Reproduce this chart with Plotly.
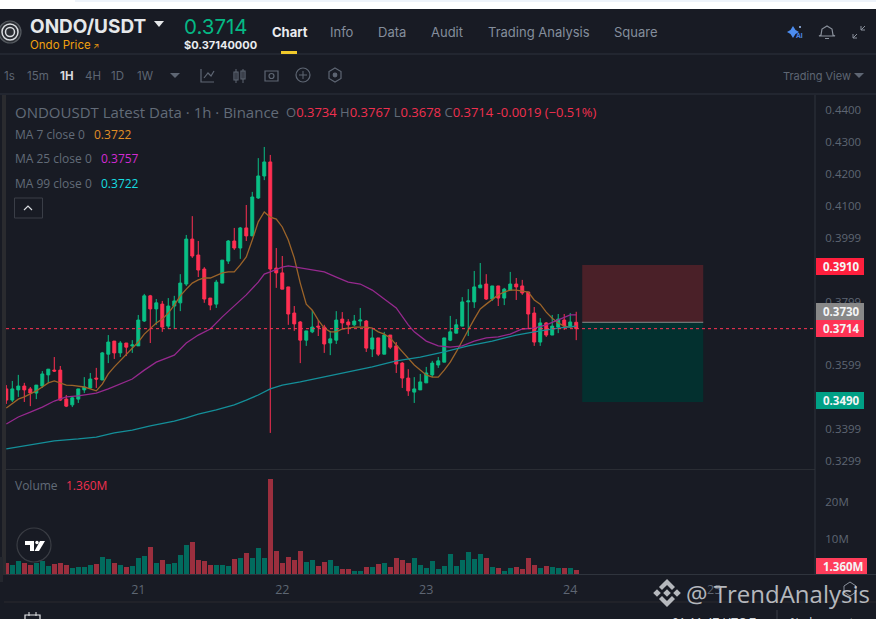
import plotly.graph_objects as go

# ---------- data ----------
opens = [0.3525,0.3490,0.3522,0.3534,0.3525,0.3512,0.3534,0.3569,0.3584,0.3584,0.3493,0.3475,0.3493,0.3522,0.3528,0.3559,
0.3553,0.3634,0.3675,0.3638,0.3669,0.3660,0.3660,0.3738,0.3817,0.3776,0.3791,0.3722,0.3785,0.3795,0.3854,0.3995,
0.3945,0.3901,0.3810,0.3791,0.3857,0.3926,0.3989,0.3967,0.4030,0.4005,0.4124,0.4193,0.4237,0.3904,0.3889,0.3845,
0.3763,0.3735,0.3678,0.3704,0.3722,0.3719,0.3669,0.3678,0.3744,0.3735,0.3726,0.3738,0.3738,0.3650,0.3685,0.3634,
0.3694,0.3660,0.3606,0.3559,0.3515,0.3522,0.3544,0.3569,0.3600,0.3609,0.3678,0.3700,0.3722,0.3798,0.3798,0.3842,
0.3854,0.3807,0.3848,0.3810,0.3835,0.3854,0.3848,0.3829,0.3763,0.3672,0.3732,0.3694,0.3719,0.3741,0.3719,0.3734]
highs = [0.3537,0.3550,0.3569,0.3544,0.3531,0.3537,0.3581,0.3587,0.3625,0.3597,0.3506,0.3500,0.3525,0.3562,0.3575,0.3591,
0.3641,0.3694,0.3675,0.3675,0.3669,0.3678,0.3757,0.3823,0.3820,0.3807,0.3801,0.3810,0.3817,0.3885,0.4008,0.4067,
0.3989,0.3907,0.3810,0.3867,0.3929,0.3992,0.4030,0.4033,0.4102,0.4143,0.4249,0.4284,0.4259,0.3967,0.3942,0.3845,
0.3785,0.3738,0.3707,0.3772,0.3741,0.3726,0.3707,0.3769,0.3766,0.3744,0.3757,0.3779,0.3741,0.3713,0.3685,0.3704,
0.3694,0.3672,0.3609,0.3587,0.3562,0.3572,0.3594,0.3613,0.3625,0.3685,0.3754,0.3744,0.3813,0.3838,0.3895,0.3920,
0.3885,0.3848,0.3848,0.3842,0.3892,0.3873,0.3867,0.3829,0.3782,0.3747,0.3735,0.3757,0.3760,0.3760,0.3763,0.3767]
lows = [0.3478,0.3484,0.3500,0.3484,0.3471,0.3493,0.3528,0.3544,0.3578,0.3487,0.3468,0.3468,0.3481,0.3512,0.3525,0.3528,
0.3553,0.3606,0.3619,0.3625,0.3628,0.3638,0.3660,0.3735,0.3669,0.3726,0.3704,0.3713,0.3713,0.3769,0.3848,0.3936,
0.3876,0.3795,0.3772,0.3779,0.3857,0.3917,0.3961,0.3933,0.3989,0.4005,0.4121,0.4180,0.3387,0.3842,0.3838,0.3726,
0.3707,0.3606,0.3660,0.3700,0.3691,0.3638,0.3631,0.3666,0.3716,0.3697,0.3722,0.3722,0.3641,0.3625,0.3628,0.3634,
0.3650,0.3575,0.3528,0.3503,0.3481,0.3522,0.3544,0.3562,0.3591,0.3609,0.3675,0.3700,0.3722,0.3691,0.3779,0.3842,
0.3804,0.3801,0.3785,0.3788,0.3835,0.3804,0.3820,0.3716,0.3660,0.3660,0.3688,0.3694,0.3700,0.3710,0.3719,0.3678]
closes = [0.3490,0.3525,0.3534,0.3522,0.3512,0.3537,0.3572,0.3587,0.3581,0.3490,0.3471,0.3497,0.3525,0.3531,0.3556,0.3556,
0.3638,0.3672,0.3638,0.3669,0.3656,0.3663,0.3741,0.3817,0.3776,0.3795,0.3719,0.3785,0.3801,0.3857,0.3995,0.3942,
0.3898,0.3807,0.3788,0.3860,0.3929,0.3989,0.3967,0.4030,0.4005,0.4127,0.4193,0.4237,0.3901,0.3889,0.3838,0.3760,
0.3729,0.3678,0.3707,0.3719,0.3719,0.3666,0.3682,0.3741,0.3732,0.3726,0.3738,0.3741,0.3653,0.3685,0.3634,0.3694,
0.3656,0.3603,0.3559,0.3519,0.3525,0.3547,0.3575,0.3606,0.3613,0.3685,0.3704,0.3726,0.3798,0.3801,0.3845,0.3851,
0.3807,0.3848,0.3810,0.3838,0.3854,0.3845,0.3826,0.3760,0.3672,0.3732,0.3694,0.3722,0.3744,0.3722,0.3735,0.3714]
volumes_m = [3.1,2.5,3.7,3.1,2.5,3.1,3.7,2.3,2.8,3.1,2.5,1.7,2.0,2.0,2.5,2.8,
4.8,4.2,3.1,2.5,2.0,2.3,4.5,5.1,7.6,3.1,3.9,2.8,3.1,5.4,8.2,9.0,
3.9,3.7,2.5,2.5,2.5,2.3,4.2,4.5,5.9,4.5,7.3,4.5,26.5,6.5,3.1,4.8,
3.9,6.5,3.4,3.9,2.3,3.4,3.9,2.3,1.4,1.4,0.85,1.1,2.0,2.0,2.8,3.1,
2.0,4.5,3.9,3.1,4.5,2.5,1.7,3.7,1.4,2.3,5.6,2.3,3.9,6.2,4.2,5.6,
4.5,2.0,1.7,1.1,1.7,2.0,1.4,4.5,2.5,1.7,2.3,2.0,1.7,1.7,1.7,1.36]
ma7 = [0.3465,0.3478,0.3493,0.3500,0.3509,0.3519,0.3531,0.3544,0.3550,0.3544,0.3537,0.3536,0.3534,0.3531,0.3525,0.3519,
0.3540,0.3572,0.3594,0.3613,0.3634,0.3653,0.3672,0.3697,0.3713,0.3732,0.3744,0.3763,0.3788,0.3817,0.3838,0.3857,
0.3867,0.3873,0.3873,0.3882,0.3889,0.3892,0.3892,0.3914,0.3939,0.3992,0.4049,0.4080,0.4064,0.4058,0.4033,0.3992,
0.3936,0.3857,0.3791,0.3772,0.3741,0.3716,0.3704,0.3704,0.3713,0.3716,0.3719,0.3719,0.3719,0.3716,0.3704,0.3697,
0.3685,0.3663,0.3641,0.3622,0.3600,0.3584,0.3569,0.3562,0.3562,0.3584,0.3609,0.3641,0.3678,0.3710,0.3744,0.3776,
0.3791,0.3807,0.3820,0.3829,0.3835,0.3835,0.3832,0.3829,0.3804,0.3791,0.3766,0.3747,0.3732,0.3722,0.3719,0.3722]
ma25_idx = [0,2,4,6,8,10,12,15,17,19,21,23,25,28,30,32,34,36,38,40,42,43,44,46,47,49,51,53,55,57,59,61,63,65,67,68,70,72,74,76,78,80,82,84,86,88,90,92,94,95]
ma25 = [0.3415,0.3437,0.3452,0.3468,0.3487,0.3500,0.3503,0.3512,0.3525,0.3540,0.3556,0.3584,0.3609,0.3631,0.3669,0.3694,0.3713,0.3751,0.3785,0.3820,0.3860,0.3885,0.3892,0.3907,0.3911,0.3904,0.3898,0.3892,0.3876,0.3860,0.3854,0.3835,0.3807,0.3779,0.3726,0.3704,0.3675,0.3660,0.3656,0.3660,0.3675,0.3685,0.3688,0.3697,0.3713,0.3716,0.3726,0.3741,0.3757,0.3757]
ma99_idx = [0,4,8,12,15,18,21,24,28,30,32,35,38,40,42,44,46,49,53,57,61,65,69,73,77,81,85,88,92,95]
ma99 = [0.3337,0.3349,0.3362,0.3368,0.3374,0.3387,0.3396,0.3409,0.3424,0.3434,0.3446,0.3459,0.3475,0.3490,0.3506,0.3525,0.3537,0.3547,0.3562,0.3578,0.3594,0.3613,0.3625,0.3641,0.3660,0.3675,0.3694,0.3704,0.3716,0.3722]

price_ticks = [0.44,0.43,0.42,0.41,0.3999,0.3799,0.3599,0.3399,0.3299]
price_labels = ["0.4400","0.4300","0.4200","0.4100","0.3999","0.3799","0.3599","0.3399","0.3299"]
day_ticks = [22,46,70,94,118]
day_labels = ["21","22","23","24","25"]
last_price = 0.3714
box_top = 0.3914
box_entry = 0.3734
box_bottom = 0.3484

BG = "#181b24"
GRAY = "#5e6673"
GREEN = "#09bf85"
RED = "#ff2f52"
W, H = 876, 619

def X(p): return p / W
def Y(p): return 1 - p / H

x_idx = list(range(len(opens)))
vol_colors = ["#026b5e" if c >= o else "#9b2f3e" for o, c in zip(opens, closes)]

fig = go.Figure()
fig.add_trace(go.Bar(x=x_idx, y=[v * 1e6 for v in volumes_m], marker=dict(color=vol_colors, line_width=0),
                     width=0.83, yaxis="y2", name="Volume"))
fig.add_trace(go.Candlestick(x=x_idx, open=opens, high=highs, low=lows, close=closes, whiskerwidth=0,
                             increasing=dict(line=dict(color=GREEN, width=1), fillcolor=GREEN),
                             decreasing=dict(line=dict(color=RED, width=1), fillcolor=RED), name="ONDOUSDT"))
fig.add_trace(go.Scatter(x=x_idx, y=ma7, mode="lines", line=dict(color="#9c6429", width=1.3), name="MA 7"))
fig.add_trace(go.Scatter(x=ma25_idx, y=ma25, mode="lines", line=dict(color="#96298e", width=1.3), name="MA 25"))
fig.add_trace(go.Scatter(x=ma99_idx, y=ma99, mode="lines", line=dict(color="#148f99", width=1.3), name="MA 99"))

shapes = []
def rect(x0, y0, x1, y1, fill, line=None, lw=0, layer="above"):
    shapes.append(dict(type="rect", xref="paper", yref="paper", x0=X(x0), x1=X(x1), y0=Y(y0), y1=Y(y1),
                       fillcolor=fill, line=dict(color=line or fill, width=lw), layer=layer))
def seg(x0, y0, x1, y1, color, lw=1):
    shapes.append(dict(type="line", xref="paper", yref="paper", x0=X(x0), x1=X(x1), y0=Y(y0), y1=Y(y1),
                       line=dict(color=color, width=lw), layer="above"))
def circ(cx, cy, r, line, fill="rgba(0,0,0,0)", lw=1.2):
    shapes.append(dict(type="circle", xref="paper", yref="paper", x0=X(cx - r), x1=X(cx + r), y0=Y(cy - r), y1=Y(cy + r),
                       fillcolor=fill, line=dict(color=line, width=lw), layer="above"))
def poly(pts, fill=None, line=None, lw=1.2, close=True):
    d = "M" + " L".join(f"{X(a):.5f},{Y(b):.5f}" for a, b in pts) + (" Z" if close else "")
    shapes.append(dict(type="path", xref="paper", yref="paper", path=d, fillcolor=fill or "rgba(0,0,0,0)",
                       line=dict(color=line or "rgba(0,0,0,0)", width=lw if line else 0), layer="above"))

# page chrome
rect(0, 0, 876, 9, "#ffffff")
rect(75, 0, 876, 2, "#eef3fa")
seg(0, 54, 876, 54, "#2c323c")
seg(0, 94, 876, 94, "#2c323c")
rect(2, 95, 6, 575, "#2a2b2f")
seg(6, 469.5, 815, 469.5, "#2a2d34")
seg(815, 95, 815, 575, "#2f343d")
seg(6, 574.5, 876, 574.5, "#2f343d")
seg(4, 602, 876, 602, "#2b2b2e")
seg(777, 610, 777, 619, "#3a3e47")
rect(281, 51, 297, 54, "#f0c92b")

# header carets
poly([(154, 21), (164, 21), (159, 27)], fill="#e6e8ea")
poly([(170, 73), (180, 73), (175, 78)], fill=GRAY)
poly([(854, 73), (864, 73), (859, 78)], fill=GRAY)

# logo
circ(10, 32, 11, "#555a60", "#2a2d33")
circ(10, 32, 8, "#d9dce0", lw=1.5)
circ(10, 32, 4.5, "#d9dce0", lw=1.5)

# toolbar icons
poly([(201, 69), (201, 82), (214, 82)], line=GRAY, close=False)
poly([(204, 78), (208, 73), (211, 76), (214, 71)], line=GRAY, close=False)
rect(234, 72, 238, 80, "rgba(0,0,0,0)", GRAY, 1.2)
rect(241, 71, 245, 79, "rgba(0,0,0,0)", GRAY, 1.2)
seg(236, 69, 236, 83, GRAY); seg(243, 69, 243, 83, GRAY)
rect(265, 71, 278, 81, "rgba(0,0,0,0)", GRAY, 1.2)
circ(271.5, 76, 2.5, GRAY)
circ(303, 75, 7, GRAY)
seg(299, 75, 307, 75, GRAY); seg(303, 71, 303, 79, GRAY)
poly([(335, 68), (341, 71.5), (341, 78.5), (335, 82), (329, 78.5), (329, 71.5)], line=GRAY)
circ(335, 75, 1.8, GRAY, GRAY)

# top-right icons
poly([(793, 26), (795.5, 30), (799, 32), (795.5, 34), (793, 38), (790.5, 34), (787, 32), (790.5, 30)], fill="#4d8df0")
circ(800, 27, 1, "#9fc0f5", "#9fc0f5", 0)
poly([(821, 35), (822, 29), (827, 26), (832, 29), (833, 35), (835, 36), (819, 36)], line="#8a919c")
seg(825, 38.5, 829, 38.5, "#8a919c")
seg(853, 38, 857, 34, "#8a919c"); seg(853, 34, 853, 38, "#8a919c"); seg(853, 38, 857, 38, "#8a919c")
seg(861, 30, 865, 26, "#8a919c"); seg(861, 26, 861, 30, "#8a919c"); seg(861, 30, 865, 30, "#8a919c")

# legend collapse button
rect(14.5, 198, 42.5, 218, "rgba(0,0,0,0)", "#3a3e47", 1)
poly([(24, 210), (28, 206), (32, 210)], line="#d9dce0", close=False)

# TradingView badge
circ(34, 545, 17, "#3a3d44", "#181b24", 1.2)
poly([(25, 541), (34, 541), (34, 551), (30, 551), (30, 545), (25, 545)], fill="#ffffff")
circ(37, 542.5, 1.7, "#ffffff", "#ffffff", 0)
poly([(40, 541), (45, 541), (39, 551), (34.5, 551)], fill="#ffffff")

# position tool (data coordinates)
pos = dict(xref="x", yref="y", x0=96, x1=116.17, layer="above")
shapes.append(dict(type="rect", y0=box_entry, y1=box_top, fillcolor="#4a2028", line_width=0, **pos))
shapes.append(dict(type="rect", y0=box_bottom, y1=box_entry, fillcolor="#03302f", line_width=0, **pos))
shapes.append(dict(type="line", y0=box_entry, y1=box_entry, line=dict(color="#8a8a8a", width=1), **pos))
shapes.append(dict(type="line", xref="paper", yref="y", x0=X(6), x1=X(815), y0=last_price, y1=last_price,
                   line=dict(color="#ff3355", width=1, dash="dot"), layer="above"))

# price badges
rect(816, 258, 864, 275, "#ff1f3d")
rect(816, 303, 864, 320, "#888888")
rect(816, 320, 864, 337, "#ff3355")
rect(816, 392, 864, 409, "#00a085")
rect(816, 558, 867, 574, "#ff3d5a")

# side handle, calendar, settings
rect(0, 557, 3, 582, "#24272e")
rect(25, 615, 40, 625, "rgba(0,0,0,0)", "#e6e8ea", 1.2)
seg(29, 612, 29, 616, "#e6e8ea"); seg(36, 612, 36, 616, "#e6e8ea")
poly([(850, 582), (856, 586), (856, 592), (850, 596), (844, 592), (844, 586)], line="#8a919c", lw=1)

# watermark logo
WM = "rgba(225,228,232,0.78)"
def diamond(cx, cy, r): poly([(cx - r, cy), (cx, cy - r), (cx + r, cy), (cx, cy + r)], fill=WM)
diamond(667, 593, 3.8); diamond(657, 593, 3.8); diamond(677, 593, 3.8)
poly([(667, 579), (675, 587), (672, 590), (667, 585), (662, 590), (659, 587)], fill=WM)
poly([(667, 607), (675, 599), (672, 596), (667, 601), (662, 596), (659, 599)], fill=WM)

ann = []
def text(x, y, s, size=12, color=GRAY, fam="Open Sans", anchor="left"):
    ann.append(dict(xref="paper", yref="paper", x=X(x), y=Y(y), text=s, showarrow=False, xanchor=anchor, yanchor="middle",
                    font=dict(size=size, color=color, family=fam), borderpad=0, borderwidth=0, align="left"))

text(30, 27, "<b>ONDO/USDT</b>", 19, "#e6e8ea", "Inter")
text(30, 45, "Ondo Price", 11.5, "#f0a10f", "Inter")
text(93, 46, "↗", 8, "#f0a10f", "Inter")
text(184, 27, "0.3714", 20.5, "#05b884", "Inter")
text(184, 45, "<b>$0.37140000</b>", 11, "#eaecef", "Inter")
text(272, 32, "<b>Chart</b>", 13, "#eaecef", "Inter")
for x_, s_ in [(330, "Info"), (378, "Data"), (431, "Audit"), (488, "Trading Analysis"), (614, "Square")]:
    text(x_, 32, s_, 13, "#848e9c", "Inter")
for x_, s_ in [(4, "1s"), (27, "15m"), (85, "4H"), (111, "1D"), (137, "1W")]:
    text(x_, 76, s_, 11.5, GRAY, "Inter")
text(60, 76, "<b>1H</b>", 11.5, "#d8dade", "Inter")
text(783, 76, "Trading View", 11, GRAY, "Inter")
text(796, 35.5, "<b>AI</b>", 6.5, "#4d8df0", "Inter")
text(15, 112, "ONDOUSDT Latest Data · 1h · Binance", 15, "#626b78")
r = lambda s: f"<span style='color:#f0304f'>{s}</span>"
text(286, 112, "O" + r("0.3734") + " H" + r("0.3767") + " L" + r("0.3678") + " C" + r("0.3714") + " " + r("-0.0019 (−0.51%)"), 13, "#626b78")
text(15, 135, "MA 7 close 0", 12, "#626b78"); text(94, 135, "0.3722", 12, "#e08f25")
text(15, 159, "MA 25 close 0", 12, "#626b78"); text(101, 159, "0.3757", 12, "#d22bd2")
text(15, 183, "MA 99 close 0", 12, "#626b78"); text(101, 183, "0.3722", 12, "#16dde0")
text(15, 486, "Volume", 12, "#626b78"); text(66, 486, "1.360M", 12, "#f0304f")
for y_, s_ in [(266.5, "0.3910"), (311.5, "0.3730"), (328.5, "0.3714"), (400.5, "0.3490")]:
    text(823, y_, "<b>" + s_ + "</b>", 11.5, "#f4f5f6")
text(823, 566, "<b>1.360M</b>", 11.5, "#f4f5f6")
text(686, 593, "@ TrendAnalysis", 24, WM)
text(672, 622, "01:11:47 UTC-7", 12, "#cfd3d8")
text(790, 622, "%   log   auto", 12, "#cfd3d8")

fig.update_layout(
    width=W, height=H, margin=dict(l=0, r=0, t=0, b=0), paper_bgcolor=BG, plot_bgcolor=BG,
    showlegend=False, shapes=shapes, annotations=ann, bargap=0, hovermode=False,
    font=dict(family="Open Sans", color=GRAY, size=12),
    xaxis=dict(domain=[X(6), X(815)], range=[-0.05, 134.8], anchor="y2", showgrid=False, zeroline=False,
               showline=False, tickmode="array", tickvals=day_ticks, ticktext=day_labels,
               ticks="outside", ticklen=3, tickcolor="rgba(0,0,0,0)", rangeslider=dict(visible=False),
               tickfont=dict(size=12.5, color=GRAY)),
    yaxis=dict(domain=[Y(469), Y(95)], range=[0.32738, 0.4447], side="right", anchor="x", showgrid=False,
               zeroline=False, showline=False, tickmode="array", tickvals=price_ticks, ticktext=price_labels,
               ticks="outside", ticklen=7, tickcolor="rgba(0,0,0,0)", tickfont=dict(size=11.5, color=GRAY)),
    yaxis2=dict(domain=[Y(574.5), Y(470)], range=[0, 29.0e6], side="right", anchor="x", showgrid=False,
                zeroline=False, showline=False, tickmode="array", tickvals=[1e7, 2e7], ticktext=["10M", "20M"],
                ticks="outside", ticklen=7, tickcolor="rgba(0,0,0,0)", tickfont=dict(size=11.5, color=GRAY)),
)

fig.write_html("out.html", config=dict(displayModeBar=False, responsive=False),
               post_script="document.body.style.margin='0';document.documentElement.style.overflow='hidden';")
